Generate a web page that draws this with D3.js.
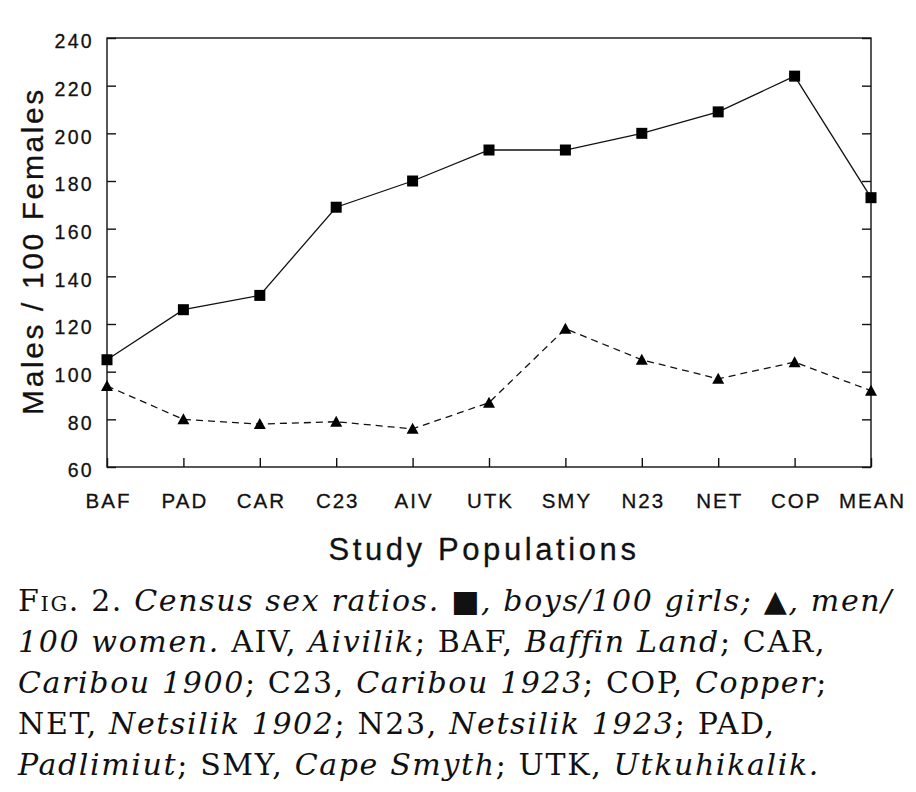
<!DOCTYPE html>
<html>
<head>
<meta charset="utf-8">
<script src="https://cdn.jsdelivr.net/npm/d3@7"></script>
<style>
  body { margin: 0; background: #fff; }
  svg { display: block; }
</style>
</head>
<body>
<div id="chart"></div>
<script>
var populations = ["BAF", "PAD", "CAR", "C23", "AIV", "UTK", "SMY", "N23", "NET", "COP", "MEAN"];
var boysPer100Girls = [105, 126, 132, 169, 180, 193, 193, 200, 209, 224, 173];
var menPer100Women = [94, 80, 78, 79, 76, 87, 118, 105, 97, 104, 92];
var yTicks = [60, 80, 100, 120, 140, 160, 180, 200, 220, 240];

var width = 916;
var height = 792;
var plotLeft = 107, plotRight = 871, plotTop = 38, plotBottom = 467;
var tickLen = 9;
var sans = "'Liberation Sans', Arial, sans-serif";
var serif = "'DejaVu Serif', serif";

var svg = d3.select("#chart")
    .append("svg")
    .attr("width", width)
    .attr("height", height);

var xScale = d3.scalePoint()
    .domain(populations)
    .range([plotLeft, plotRight]);

var yScale = d3.scaleLinear()
    .domain([60, 240])
    .range([plotBottom, plotTop]);

// frame
svg.append("rect")
    .attr("x", plotLeft)
    .attr("y", plotTop)
    .attr("width", plotRight - plotLeft)
    .attr("height", plotBottom - plotTop)
    .attr("fill", "none")
    .attr("stroke", "#111")
    .attr("stroke-width", 1.4);

// bottom axis, ticks pointing inward
var xAxis = d3.axisBottom(xScale)
    .tickSizeInner(-tickLen)
    .tickSizeOuter(0);

var gx = svg.append("g")
    .attr("transform", "translate(0," + plotBottom + ")")
    .call(xAxis);
gx.select(".domain").remove();
gx.selectAll("line").attr("stroke", "#111").attr("stroke-width", 1.4);
gx.selectAll("text")
    .attr("font-family", sans)
    .attr("font-size", 20.5)
    .attr("fill", "#111")
    .attr("stroke", "#111")
    .attr("stroke-width", 0.3)
    .style("letter-spacing", "2px")
    .attr("y", 41)
    .attr("dx", 1)
    .attr("dy", 0);

// left axis
var yAxis = d3.axisLeft(yScale)
    .tickValues(yTicks)
    .tickSizeInner(-tickLen)
    .tickSizeOuter(0)
    .tickPadding(13);

var gy = svg.append("g")
    .attr("transform", "translate(" + plotLeft + ",0)")
    .call(yAxis);
gy.select(".domain").remove();
gy.selectAll("line").attr("stroke", "#111").attr("stroke-width", 1.4);
gy.selectAll("text")
    .attr("font-family", sans)
    .attr("font-size", 19.5)
    .attr("fill", "#111")
    .attr("stroke", "#111")
    .attr("stroke-width", 0.3)
    .style("letter-spacing", "2.3px")
    .attr("dy", "0.5em");

// right axis, ticks only
var gr = svg.append("g")
    .attr("transform", "translate(" + plotRight + ",0)")
    .call(d3.axisRight(yScale).tickValues(yTicks).tickSizeInner(-tickLen).tickSizeOuter(0).tickFormat(""));
gr.select(".domain").remove();
gr.selectAll("line").attr("stroke", "#111").attr("stroke-width", 1.4);

var line = d3.line()
    .x(function(d, i) { return xScale(populations[i]); })
    .y(function(d) { return yScale(d); });

// boys / 100 girls
svg.append("path")
    .datum(boysPer100Girls)
    .attr("d", line)
    .attr("fill", "none")
    .attr("stroke", "#111")
    .attr("stroke-width", 1.3);

svg.selectAll(".sq")
    .data(boysPer100Girls)
    .enter()
    .append("rect")
    .attr("class", "sq")
    .attr("x", function(d, i) { return xScale(populations[i]) - 5.5; })
    .attr("y", function(d) { return yScale(d) - 5.5; })
    .attr("width", 11)
    .attr("height", 11)
    .attr("fill", "#000");

// men / 100 women
svg.append("path")
    .datum(menPer100Women)
    .attr("d", line)
    .attr("fill", "none")
    .attr("stroke", "#111")
    .attr("stroke-width", 1.3)
    .attr("stroke-dasharray", "7,5");

svg.selectAll(".tri")
    .data(menPer100Women)
    .enter()
    .append("path")
    .attr("class", "tri")
    .attr("transform", function(d, i) { return "translate(" + xScale(populations[i]) + "," + yScale(d) + ")"; })
    .attr("d", "M0,-6L6,5L-6,5Z")
    .attr("fill", "#000");

// axis titles
svg.append("text")
    .attr("x", 484)
    .attr("y", 560)
    .attr("text-anchor", "middle")
    .attr("font-family", sans)
    .attr("font-size", 31)
    .attr("stroke", "#111")
    .attr("stroke-width", 0.3)
    .style("letter-spacing", "3.6px")
    .attr("fill", "#111")
    .text("Study Populations");

svg.append("text")
    .attr("transform", "translate(43,251) rotate(-90)")
    .attr("text-anchor", "middle")
    .attr("font-family", sans)
    .attr("font-size", 30)
    .attr("stroke", "#111")
    .attr("stroke-width", 0.3)
    .style("letter-spacing", "2.6px")
    .attr("fill", "#111")
    .text("Males / 100 Females");

// caption
var captionLines = [
    [["Fig. ", "sc"], ["2. ", "r"], ["Census sex ratios. ", "i"], ["\u25A0", "r"], [", boys/100 girls; ", "i"], ["\u25B2", "r"], [", men/", "i"]],
    [["100 women. ", "i"], ["AIV, ", "r"], ["Aivilik", "i"], ["; BAF, ", "r"], ["Baffin Land", "i"], ["; CAR,", "r"]],
    [["Caribou 1900", "i"], ["; C23, ", "r"], ["Caribou 1923", "i"], ["; COP, ", "r"], ["Copper", "i"], [";", "r"]],
    [["NET, ", "r"], ["Netsilik 1902", "i"], ["; N23, ", "r"], ["Netsilik 1923", "i"], ["; PAD,", "r"]],
    [["Padlimiut", "i"], ["; SMY, ", "r"], ["Cape Smyth", "i"], ["; UTK, ", "r"], ["Utkuhikalik.", "i"]]
];
var captionY = [611, 652, 693, 734, 775];
var captionWidth = 875; // width of the first caption line in the figure

var caption = svg.append("g")
    .attr("font-family", serif)
    .attr("font-size", 30)
    .attr("fill", "#111");

var captionTexts = [];
captionLines.forEach(function(parts, li) {
    var t = caption.append("text")
        .attr("x", 18)
        .attr("y", captionY[li])
        .attr("xml:space", "preserve");
    parts.forEach(function(p) {
        var s = t.append("tspan").text(p[0]);
        if (p[1] === "i") s.attr("font-style", "italic");
        if (p[1] === "sc") s.style("font-variant", "small-caps");
        if (p[0] === "\u25A0" || p[0] === "\u25B2") s.attr("font-family", "'DejaVu Sans', sans-serif").attr("font-size", 30);
    });
    captionTexts.push(t);
});

// spread letters so the first line fills its width, same spacing for all lines
var first = captionTexts[0].node();
var n = first.getNumberOfChars();
var spacing = (captionWidth - first.getComputedTextLength()) / n;
caption.style("letter-spacing", spacing + "px");
</script>
</body>
</html>
